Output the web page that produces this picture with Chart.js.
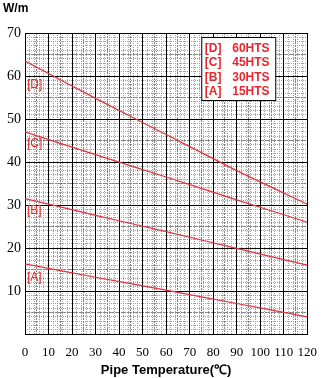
<!DOCTYPE html>
<html>
<head>
<meta charset="utf-8">
<script src="https://cdn.jsdelivr.net/npm/chart.js@4"></script>
<style>
  html, body { margin: 0; padding: 0; background: #fff; }
  #wrap { width: 328px; height: 378px; }
</style>
</head>
<body>
<div id="wrap"><canvas id="chart"></canvas></div>
<script>
const temps = [0, 30, 60, 90, 120];
// output in W/m for each heating cable
const seriesD = [63.5, 54.8, 46.4, 38.0, 30.2];
const seriesC = [47.0, 41.7, 36.5, 31.2, 26.0];
const seriesB = [31.5, 27.6, 23.8, 19.9, 16.0];
const seriesA = [16.3, 13.2, 10.2, 7.1, 4.0];
const tags = ['[D]', '[C]', '[B]', '[A]'];
const legendNames = ['60HTS', '45HTS', '30HTS', '15HTS'];
// W/m level where each [X] tag sits, near the left edge
const tagLevels = [57.9, 44.3, 28.6, 13.1];

const xTicks = [0, 10, 20, 30, 40, 50, 60, 70, 80, 90, 100, 110, 120];
const yTicks = [0, 10, 20, 30, 40, 50, 60, 70];

const lineColor = '#e8303c';
const textRed = '#e8262e';

function pts(vals) {
  return temps.map((t, i) => ({ x: t, y: vals[i] }));
}

// tags on the curves and the boxed legend
const overlay = {
  id: 'overlay',
  afterDatasetsDraw(chart) {
    const { ctx, chartArea, scales } = chart;
    ctx.save();
    ctx.font = '12px "Liberation Sans"';
    ctx.fillStyle = '#e02c2c';
    ctx.textBaseline = 'middle';
    ctx.textAlign = 'left';
    tags.forEach((t, i) => {
      ctx.fillText(t, scales.x.getPixelForValue(0) + 2, scales.y.getPixelForValue(tagLevels[i]));
    });

    const bx = chartArea.right - 106, by = chartArea.top + 4, bw = 74, bh = 63;
    ctx.fillStyle = '#fff';
    ctx.fillRect(bx, by, bw, bh);
    ctx.strokeStyle = '#000';
    ctx.lineWidth = 1;
    ctx.strokeRect(bx + 0.5, by + 0.5, bw, bh);
    ctx.font = 'bold 12px "Liberation Sans"';
    ctx.fillStyle = textRed;
    tags.forEach((t, i) => {
      const yy = by + 12 + i * 14.1;
      ctx.fillText(t, bx + 3.5, yy);
      ctx.fillText(legendNames[i], bx + 31, yy);
    });
    ctx.restore();
  }
};

// helper for grid-only axes (take no room in the layout)
function gridAxis(pos, max, step, color, dash, z) {
  return {
    type: 'linear', position: pos, min: 0, max: max, z: z,
    ticks: { display: false, stepSize: step, padding: 0 },
    grid: { color: color, lineWidth: 1, drawTicks: false, tickLength: 0 },
    border: { display: false, dash: dash },
    afterFit: s => { if (s.isHorizontal()) s.height = 0; else s.width = 0; }
  };
}

new Chart(document.getElementById('chart'), {
  type: 'line',
  data: {
    datasets: [
      { label: '[D] 60HTS', data: pts(seriesD) },
      { label: '[C] 45HTS', data: pts(seriesC) },
      { label: '[B] 30HTS', data: pts(seriesB) },
      { label: '[A] 15HTS', data: pts(seriesA) }
    ].map(d => Object.assign(d, {
      borderColor: lineColor, borderWidth: 1.2, pointRadius: 0, tension: 0.2, fill: false
    }))
  },
  options: {
    responsive: true,
    maintainAspectRatio: false,
    animation: false,
    layout: { padding: { left: 3, right: 19, top: 0, bottom: 0 } },
    plugins: {
      legend: { display: false },
      tooltip: { enabled: false },
      title: {
        display: true, text: 'W/m', align: 'start', color: '#000',
        font: { family: 'Liberation Sans', size: 12, weight: 'bold' },
        padding: { top: 1, bottom: 17.6 }
      }
    },
    scales: {
      xMinor: gridAxis('bottom', 120, 2, '#a0a0a0', [1, 1], -2),
      yMinor: gridAxis('left', 70, 1, '#a0a0a0', [1, 1], -2),
      xMid: gridAxis('bottom', 120, 5, '#808080', [2, 1], -1),
      yMid: gridAxis('left', 70, 5, '#808080', [2, 1], -1),
      x: {
        type: 'linear', min: 0, max: 120,
        afterBuildTicks: s => { s.ticks = xTicks.map(v => ({ value: v })); },
        afterFit: s => { s.height = 44; },
        ticks: {
          autoSkip: false, maxRotation: 0, padding: 11, color: '#000',
          font: { family: 'Liberation Serif', size: 13 }
        },
        grid: { color: '#000', lineWidth: 1, drawTicks: false },
        border: { color: '#000', width: 1 },
        title: {
          display: true, text: 'Pipe Temperature(℃)', color: '#000',
          font: { family: 'Liberation Sans', size: 13, weight: 'bold' },
          padding: { top: 3, bottom: 0 }
        }
      },
      y: {
        type: 'linear', min: 0, max: 70,
        afterBuildTicks: s => { s.ticks = yTicks.map(v => ({ value: v })); },
        ticks: {
          padding: 4, color: '#000',
          font: { family: 'Liberation Serif', size: 14 },
          callback: v => (v === 0 ? '' : v)
        },
        grid: { color: '#000', lineWidth: 1, drawTicks: false },
        border: { color: '#000', width: 1 }
      }
    }
  },
  plugins: [overlay]
});
</script>
</body>
</html>
